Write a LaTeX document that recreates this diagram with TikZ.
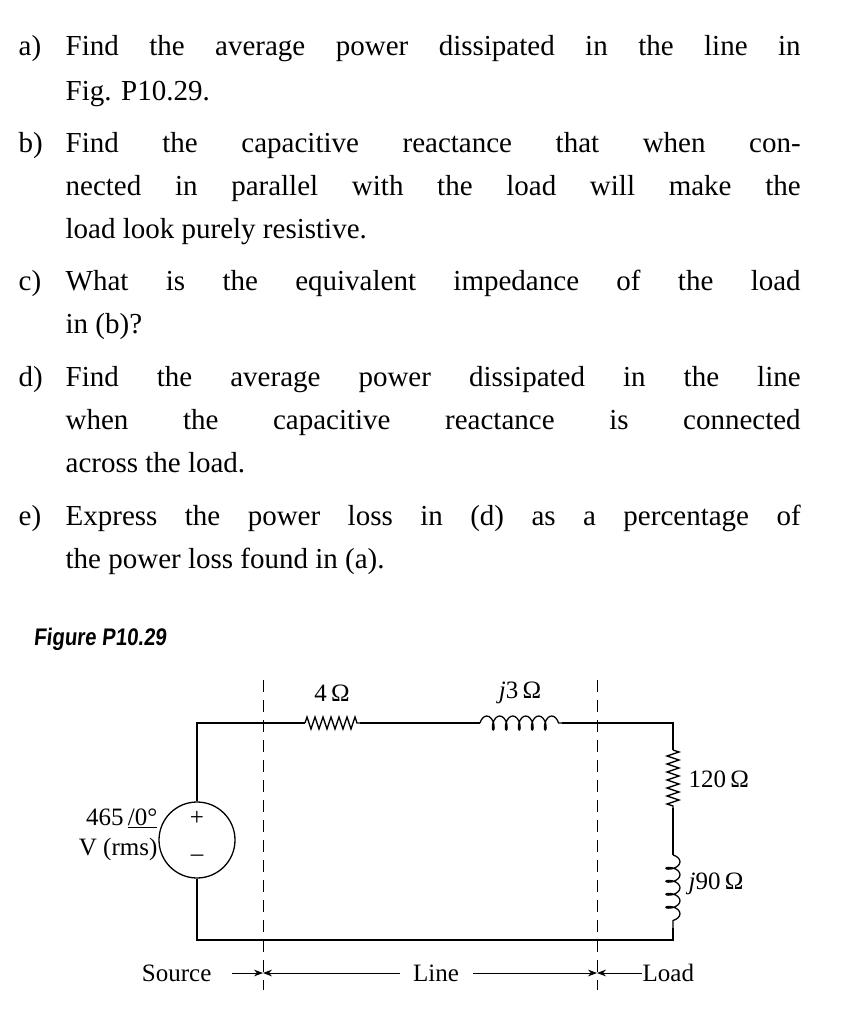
\documentclass[tikz,border=0pt]{standalone}
\usepackage{fontspec}
\setmainfont{Liberation Serif}
\newfontfamily\figfont{Liberation Sans}[FakeSlant=0.1,FakeStretch=0.85]
\usetikzlibrary{decorations.pathmorphing,arrows.meta}
\begin{document}
\begin{tikzpicture}[x=1pt,y=-1pt,line width=1.3pt,
  txt/.style={anchor=base west,inner sep=0pt,font=\fontsize{29}{43}\selectfont},
  lbl/.style={inner sep=0pt,font=\fontsize{25}{30}\selectfont},
  dashline/.style={dash pattern=on 12pt off 8pt,line width=1pt},
  res/.style={decorate,decoration={zigzag,segment length=8pt,amplitude=6pt}},
  coil/.style={decorate,decoration={coil,aspect=0.5,segment length=13pt,amplitude=7pt}}]
\useasboundingbox (0,0) rectangle (851,1009);
% text
\node[txt] (a1) at (18,55) {a)};
\node[txt] (a2) at (65,55) {\makebox[735pt][s]{Find the average power dissipated in the line in}};
\node[txt] (a3) at (65,100) {Fig. P10.29.};
\node[txt] (b1) at (18,152) {b)};
\node[txt] (b2) at (65,152) {\makebox[735pt][s]{Find the capacitive reactance that when con-}};
\node[txt] (b3) at (65,195) {\makebox[735pt][s]{nected in parallel with the load will make the}};
\node[txt] (b4) at (65,238) {load look purely resistive.};
\node[txt] (c1) at (18,290) {c)};
\node[txt] (c2) at (65,290) {\makebox[735pt][s]{What is the equivalent impedance of the load}};
\node[txt] (c3) at (65,333) {in (b)?};
\node[txt] (d1) at (18,386) {d)};
\node[txt] (d2) at (65,386) {\makebox[735pt][s]{Find the average power dissipated in the line}};
\node[txt] (d3) at (65,429) {\makebox[735pt][s]{when the capacitive reactance is connected}};
\node[txt] (d4) at (65,472) {across the load.};
\node[txt] (e1) at (18,525) {e)};
\node[txt] (e2) at (65,525) {\makebox[735pt][s]{Express the power loss in (d) as a percentage of}};
\node[txt] (e3) at (65,568) {the power loss found in (a).};
\node[anchor=base west,inner sep=0pt,font=\figfont\bfseries\fontsize{24}{28}\selectfont] (fig) at (33,645) {Figure P10.29};
% circuit
\coordinate (tl) at (197,723);
\coordinate (tr) at (673,723);
\coordinate (bl) at (197,940);
\coordinate (br) at (673,940);
\node[draw,circle,minimum size=76pt,inner sep=0pt,line width=1.3pt] (src) at (197,840) {};
\node[lbl] (plus) at (197,818) {+};
\node[lbl] (minus) at (197,858) {--};
\coordinate (r1a) at (305,723); \coordinate (r1b) at (360,723);
\coordinate (l1a) at (480,723); \coordinate (l1b) at (562,723);
\coordinate (r2a) at (673,750); \coordinate (r2b) at (673,808);
\coordinate (l2a) at (673,855); \coordinate (l2b) at (673,928);
\draw (src.north) -- (tl) -- (r1a);
\draw[res] (r1a) -- (r1b);
\draw (r1b) -- (l1a);
\draw[coil] (l1a) -- (l1b);
\draw (l1b) -- (tr) -- (r2a);
\draw[res] (r2a) -- (r2b);
\draw (r2b) -- (l2a);
\draw[coil] (l2a) -- (l2b);
\draw (l2b) -- (br) -- (bl) -- (src.south);
\node[lbl] (t4) at (332,693) {4\,Ω};
\node[lbl] (tj3) at (520,693) {\textit{j}3\,Ω};
\node[lbl,anchor=west] (t120) at (688,779) {120\,Ω};
\node[lbl,anchor=west] (tj90) at (688,884) {\textit{j}90\,Ω};
\node[lbl,align=right,anchor=east,font=\fontsize{25}{30}\selectfont] (vs) at (158,835) {465\,\underline{/0°}\\V (rms)};
% dashed
\coordinate (d1t) at (263,680); \coordinate (d1b) at (263,990);
\coordinate (d2t) at (597,680); \coordinate (d2b) at (597,990);
\draw[dashline] (d1t) -- (d1b);
\draw[dashline] (d2t) -- (d2b);
\node[lbl,anchor=east] (srcl) at (212,973) {Source};
\node[lbl] (line) at (436,973) {Line};
\node[lbl,anchor=west] (load) at (642,973) {Load};
\coordinate (s0) at (232,973);
\coordinate (s2) at (400,973); \coordinate (s3) at (473,973);
\draw[line width=0.9pt,-{Stealth[length=9pt]}] (s0) -- (d1b|-s0);
\draw[line width=0.9pt,-{Stealth[length=9pt]}] (s2) -- (d1b|-s2);
\draw[line width=0.9pt,-{Stealth[length=9pt]}] (s3) -- (d2b|-s3);
\draw[line width=0.9pt,-{Stealth[length=9pt]}] (load.west) -- (d2b|-s0);
\end{tikzpicture}
\end{document}
